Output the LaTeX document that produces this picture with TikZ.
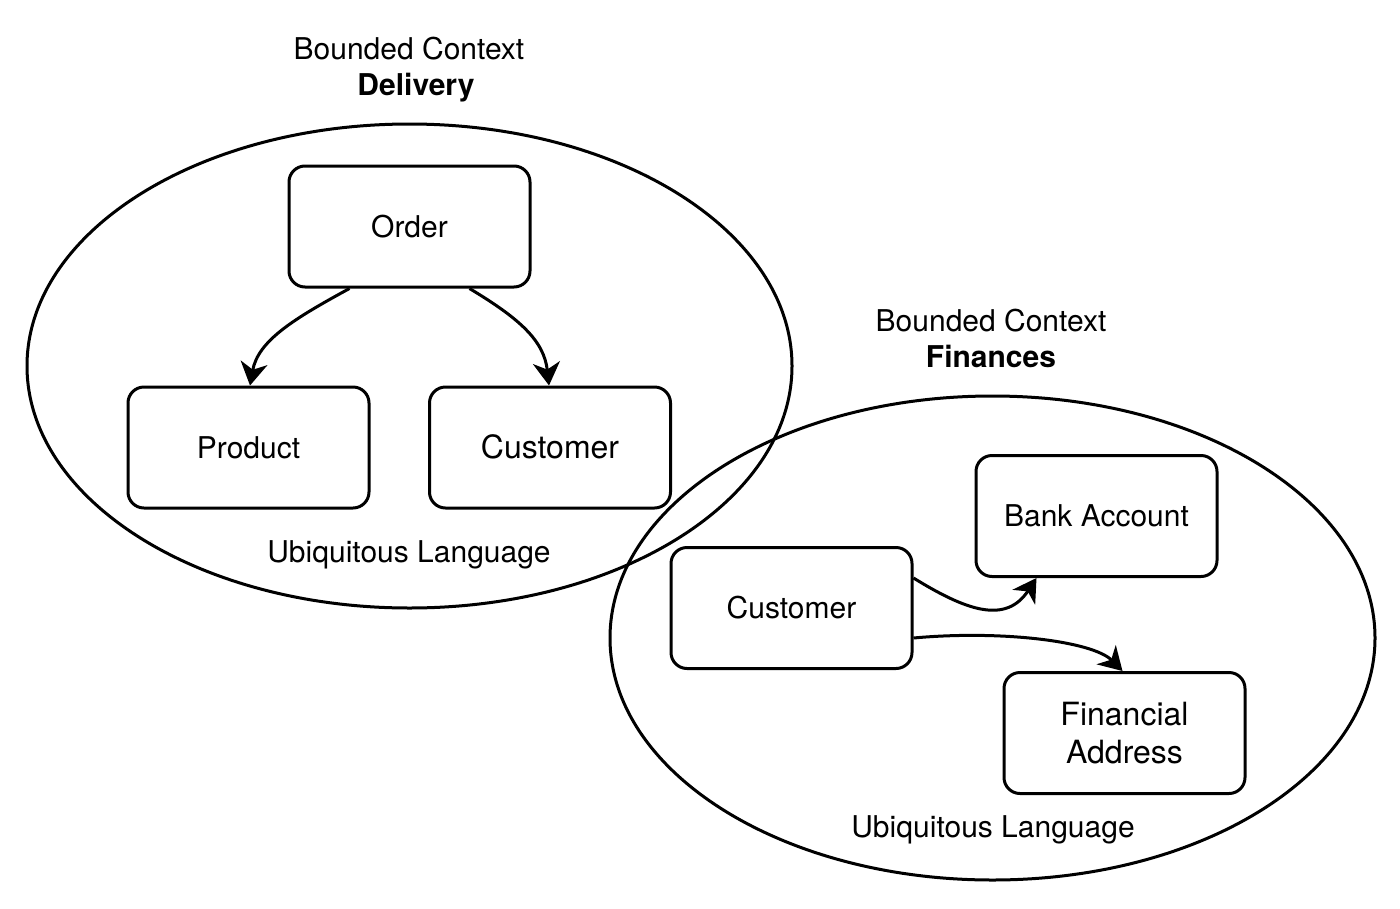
\documentclass[tikz,border=0pt]{standalone}
\usepackage{fontspec}
\setmainfont{TeX Gyre Heros}
\usetikzlibrary{arrows.meta}
\tikzset{
  ctx/.style={draw=black, line width=3pt},
  entity/.style={draw=black, line width=3pt, rounded corners=16pt, minimum width=241pt, minimum height=121pt, inner sep=0pt, align=center, font=\fontsize{30}{36}\selectfont},
  bigtext/.style={font=\fontsize{32}{38}\selectfont},
  lbl/.style={anchor=base, inner sep=0pt, font=\fontsize{30}{36}\selectfont},
  rel/.style={line width=3pt, -{Stealth[length=23pt, width=27pt, inset=7pt]}},
}
\begin{document}
\begin{tikzpicture}[x=1pt, y=-1pt]
\useasboundingbox (0,0) rectangle (1400,908);
% contexts
\draw[ctx] (409.5,366) ellipse [x radius=382.5pt, y radius=242pt];
\draw[ctx] (992.5,638) ellipse [x radius=382.5pt, y radius=242pt];
% titles
\node[lbl] (t1a) at (409,59) {Bounded Context};
\node[lbl] (t1b) at (416,95) {\bfseries Delivery};
\node[lbl] (t2a) at (991,331) {Bounded Context};
\node[lbl] (t2b) at (991,367) {\bfseries Finances};
\node[lbl] (u1) at (409,562) {Ubiquitous Language};
\node[lbl] (u2) at (993,837) {Ubiquitous Language};
% entities
\node[entity] (order) at (409.5,226.5) {Order};
\node[entity] (product) at (248.5,447.5) {Product};
\node[entity, bigtext] (cust1) at (550,447.5) {\raisebox{2pt}{Customer}};
\node[entity] (bank) at (1096.5,516) {Bank Account};
\node[entity] (cust2) at (791.5,608) {Customer};
\node[entity, bigtext] (fin) at (1124.5,733) {Financial\\Address};
% relations
\draw[rel] ([xshift=-60pt]order.south) .. controls +(-55,30) and +(8,-45) .. ([xshift=1.5pt]product.north);
\draw[rel] ([xshift=60pt]order.south) .. controls +(50,30) and +(-5,-45) .. ([xshift=-1pt]cust1.north);
\draw[rel] ([yshift=30pt]cust2.east) .. controls +(52,32) and +(-31,47) .. ([xshift=-60pt]bank.south);
\draw[rel] ([yshift=-30pt]cust2.east) .. controls +(87,-8) and +(-30,-30) .. ([xshift=-2pt]fin.north);
\end{tikzpicture}
\end{document}
